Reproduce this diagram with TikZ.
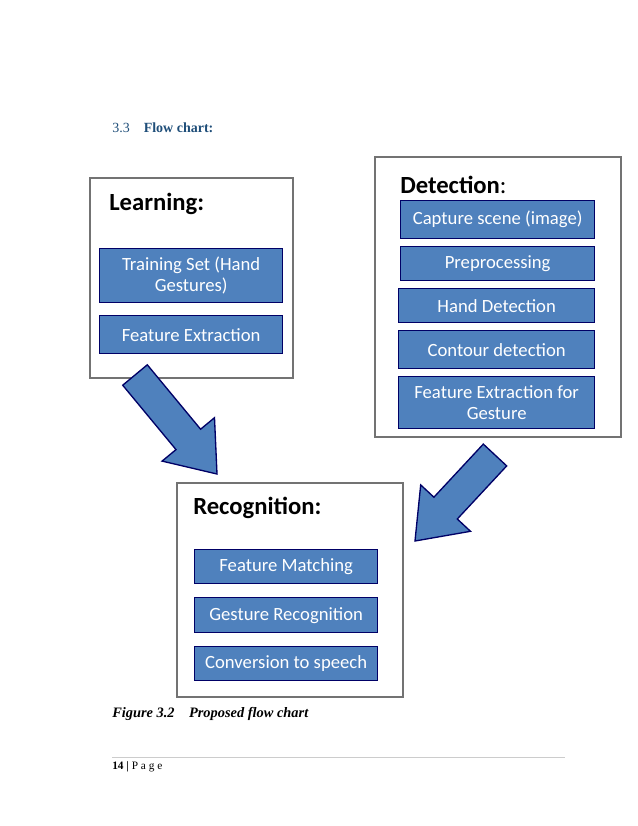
\documentclass[tikz,border=0pt]{standalone}
\usepackage{fontspec}
\setmainfont{Carlito}
\newfontfamily\tms{Liberation Serif}
\begin{document}
\begin{tikzpicture}[x=0.75pt,y=-0.75pt,
  sz/.style 2 args={minimum width=#1*0.75pt,minimum height=#2*0.75pt,anchor=north west},
  frame/.style={draw=black!55,line width=1.2pt,inner sep=0pt},
  blk/.style={draw=blue!40!black,fill=blueA,line width=1pt,text=white,font=\fontsize{14}{16}\selectfont,align=center,inner sep=0pt},
  head/.style={anchor=west,font=\fontsize{18.5}{22}\selectfont\bfseries,inner sep=0pt},
  barrow/.style={draw=blue!40!black,fill=blueA,line width=1pt}]
\definecolor{blueA}{HTML}{4F81BD}
\useasboundingbox (0,0) rectangle (638,826);
\node[anchor=west,inner sep=0pt,font=\tms\fontsize{10.5}{12}\selectfont,text={rgb,255:red,31;green,78;blue,121}] (sec) at (112,128) {3.3\quad \textbf{Flow chart:}};
% Learning
\node[frame,sz={203}{200}] (L) at (89,177) {};
\node[head] (Lh) at (109,204) {Learning:};
\node[blk,sz={183}{54}] (l1) at (99,248) {Training Set (Hand\\Gestures)};
\node[blk,sz={183}{38}] (l2) at (99,315) {Feature Extraction};
% Detection
\node[frame,sz={246}{280}] (D) at (374,156) {};
\node[head] (Dh) at (400,185) {Detection\mdseries:};
\node[blk,sz={194}{38}] (d1) at (400,200) {Capture scene (image)};
\node[blk,sz={194}{34}] (d2) at (400,246) {Preprocessing};
\node[blk,sz={196}{34}] (d3) at (398,288) {Hand Detection};
\node[blk,sz={196}{38}] (d4) at (398,330) {Contour detection};
\node[blk,sz={196}{52}] (d5) at (398,376) {Feature Extraction for\\Gesture};
% Recognition
\node[frame,sz={226}{214}] (R) at (176,482) {};
\node[head] (Rh) at (193,508) {Recognition:};
\node[blk,sz={183}{34}] (r1) at (194,549) {Feature Matching};
\node[blk,sz={183}{35}] (r2) at (194,597) {Gesture Recognition};
\node[blk,sz={183}{34}] (r3) at (194,646) {Conversion to speech};
% block arrows
\draw[barrow] (147.3,364.8) -- (200.6,429.2) -- (214.5,417.7) -- (217,474) -- (162.1,461.1) -- (176.0,449.6) -- (122.7,385.2) -- cycle;
\draw[barrow] (506.7,465.9) -- (457.3,519.0) -- (470.5,531.3) -- (415,541) -- (420.7,484.9) -- (433.9,497.2) -- (483.3,444.1) -- cycle;
% caption and footer
\node[anchor=west,inner sep=0pt,font=\tms\fontsize{10.8}{13}\selectfont\bfseries\itshape] (cap) at (112,714) {Figure 3.2\quad Proposed flow chart};
\coordinate (f1) at (112,757); \coordinate (f2) at (565,757);
\draw[black!20,line width=0.5pt] (f1) -- (f2);
\node[anchor=west,inner sep=0pt,font=\tms\fontsize{8.5}{10}\selectfont] (pg) at (112,767) {\textbf{14 |} P a g e};
\end{tikzpicture}
\end{document}
